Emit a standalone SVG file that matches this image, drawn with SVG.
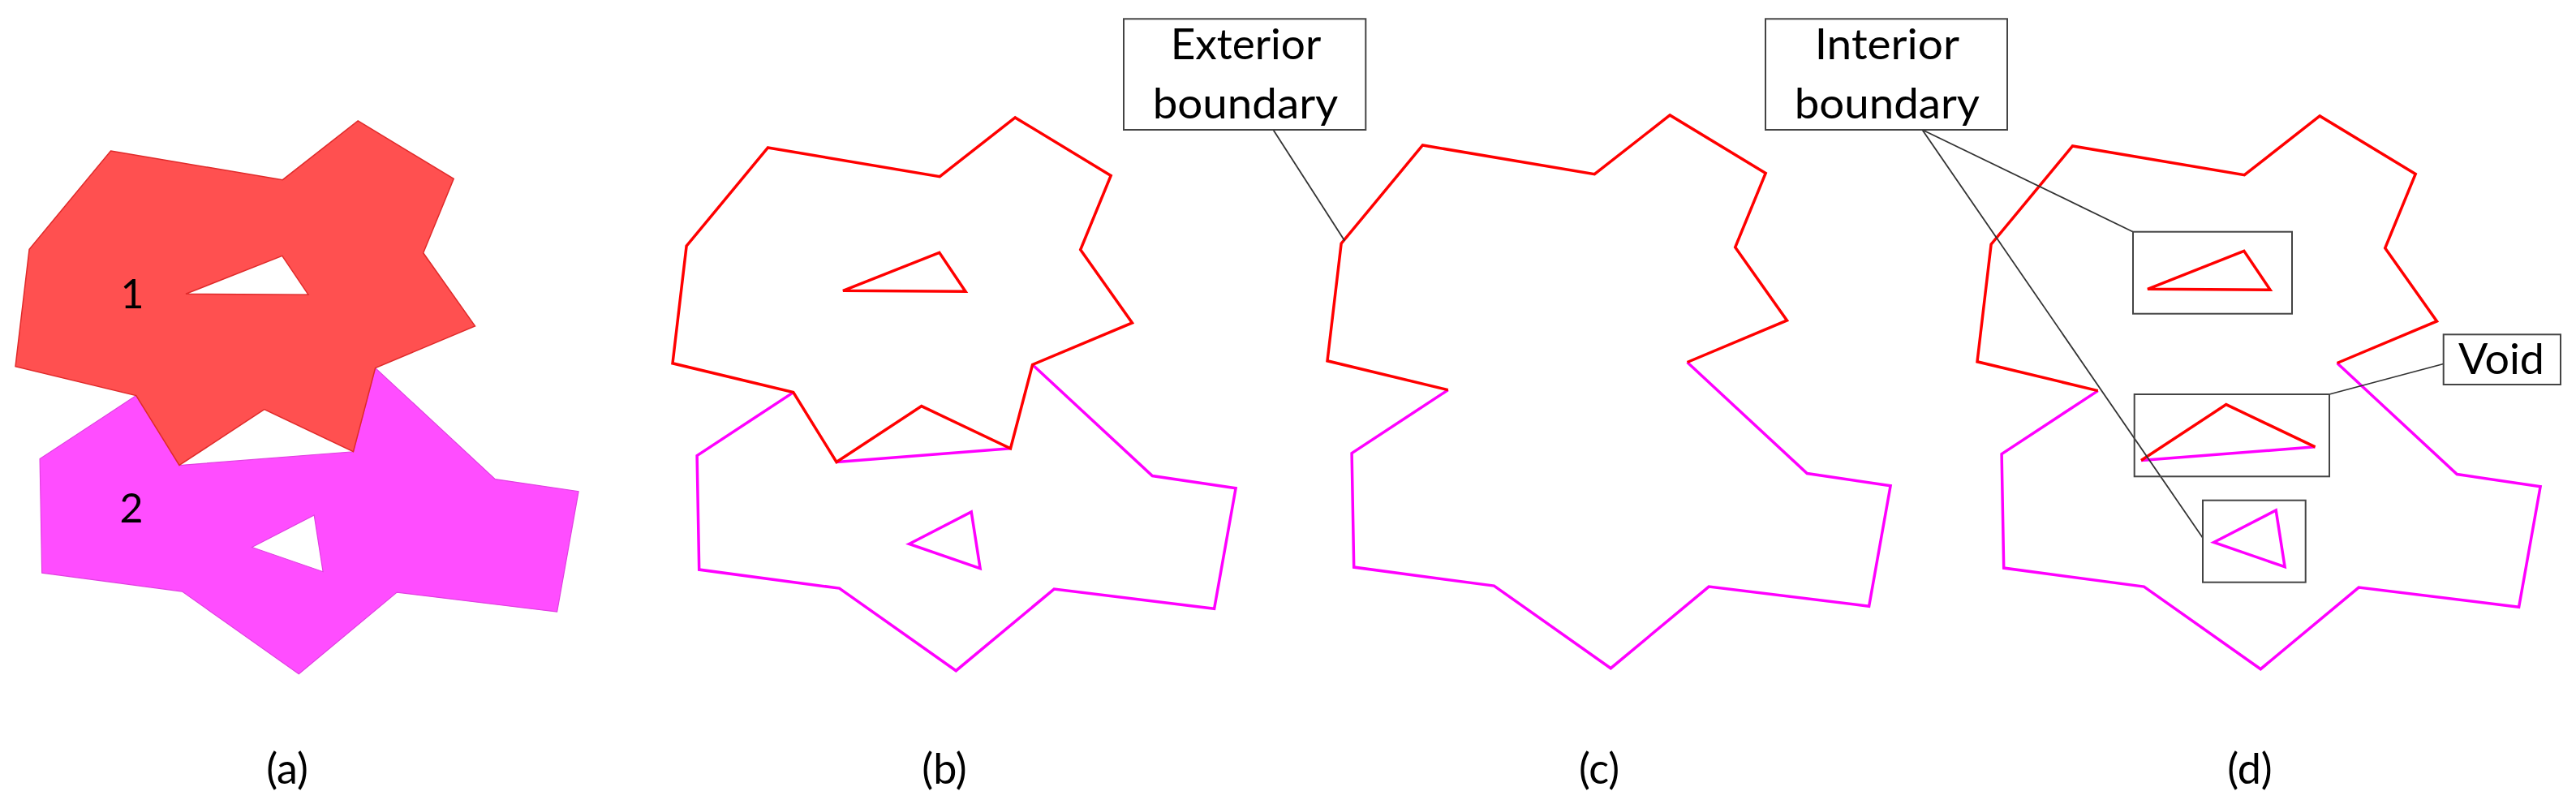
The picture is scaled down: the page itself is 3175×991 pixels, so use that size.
<svg xmlns="http://www.w3.org/2000/svg" xmlns:xlink="http://www.w3.org/1999/xlink" width="3175" height="991" viewBox="0 0 3175 991">
<style>
.red{fill:none;stroke:#FF0000;stroke-width:3.5;stroke-linejoin:miter}
.mag{fill:none;stroke:#FF00FF;stroke-width:3.5;stroke-linejoin:miter}
.redfill{fill:#FF5050;stroke:#E02A2A;stroke-width:1.5;fill-rule:evenodd}
.magfill{fill:#FF4DFF;stroke:#E040E0;stroke-width:1.2;fill-rule:evenodd}
.box{fill:#FFFFFF;stroke:#444444;stroke-width:2}
.hbox{fill:none;stroke:#444444;stroke-width:2}
.lead{fill:none;stroke:#333333;stroke-width:1.8}
.t{font-family:Lato,"Liberation Sans",sans-serif;font-size:52px;fill:#000000;text-anchor:middle}
.num{font-family:Lato,"Liberation Sans",sans-serif;font-size:50px;fill:#000000;text-anchor:middle}
.cap{font-family:Lato,"Liberation Sans",sans-serif;font-size:52px;fill:#000000;text-anchor:middle}
</style>
<defs>
<path id="redOuter" d="M946.5,182 L1158.3,217.7 L1251.2,144.9 L1369.2,216.4 L1331.7,307.8 L1395.5,397.9 L1272.6,449.5 L1245.5,552.8 L1135.8,500.6 L1031,569.5 L977.8,483.6 L829,447.8 L846.1,303.2 Z"/>
<path id="redHole" d="M1039,358.3 L1157.8,311.3 L1190,359.2 Z"/>
<path id="magHole" d="M1120.5,670.5 L1197.2,631 L1208.1,700.7 Z"/>
<path id="magOuterOpen" d="M977.8,483.6 L859.1,561.6 L861.7,702.1 L1034.5,725.1 L1178.3,826.7 L1299.2,726.1 L1496.6,750.2 L1523.1,601.7 L1420.3,586.6 L1272.6,449.5"/>
<path id="extRed" d="M977.8,483.6 L829,447.8 L846.1,303.2 L946.5,182 L1158.3,217.7 L1251.2,144.9 L1369.2,216.4 L1331.7,307.8 L1395.5,397.9 L1272.6,449.5"/>
</defs>

<g id="panel-a" transform="translate(-810,4)">
<path class="magfill" d="M977.8,483.6 L859.1,561.6 L861.7,702.1 L1034.5,725.1 L1178.3,826.7 L1299.2,726.1 L1496.6,750.2 L1523.1,601.7 L1420.3,586.6 L1272.6,449.5 L1245.5,552.8 L1031,569.5 Z M1120.5,670.5 L1197.2,631 L1208.1,700.7 Z"/>
<path class="redfill" d="M946.5,182 L1158.3,217.7 L1251.2,144.9 L1369.2,216.4 L1331.7,307.8 L1395.5,397.9 L1272.6,449.5 L1245.5,552.8 L1135.8,500.6 L1031,569.5 L977.8,483.6 L829,447.8 L846.1,303.2 Z M1039,358.3 L1157.8,311.3 L1190,359.2 Z"/>
</g>
<g id="label-1"><text class="num" x="163" y="380">1</text></g>
<g id="label-2"><text class="num" x="162" y="644">2</text></g>

<g id="panel-b">
<use xlink:href="#magOuterOpen" class="mag"/>
<path class="mag" d="M1031,569.5 L1245.5,552.8"/>
<use xlink:href="#magHole" class="mag"/>
<use xlink:href="#redOuter" class="red"/>
<use xlink:href="#redHole" class="red"/>
</g>

<g id="panel-c" transform="translate(807,-3)">
<use xlink:href="#magOuterOpen" class="mag"/>
<use xlink:href="#extRed" class="red"/>
</g>

<g id="panel-d" transform="translate(1608,-2)">
<use xlink:href="#magOuterOpen" class="mag"/>
<use xlink:href="#extRed" class="red"/>
<use xlink:href="#redHole" class="red"/>
<use xlink:href="#magHole" class="mag"/>
<path class="mag" d="M1031,569.5 L1245.5,552.8"/>
<path class="red" d="M1031,569.5 L1135.8,500.6 L1245.5,552.8"/>
</g>

<g id="connectors">
<line class="lead" x1="1569.3" y1="160" x2="1657.3" y2="296.7"/>
<line class="lead" x1="2369.3" y1="160" x2="2629" y2="285.7"/>
<line class="lead" x1="2369.3" y1="160" x2="2715" y2="663"/>
<line class="lead" x1="2871" y1="486" x2="3011.7" y2="448.5"/>
</g>

<g id="highlight-boxes">
<rect id="box-hole-red" class="hbox" x="2629" y="285.7" width="196" height="101"/>
<rect id="box-void" class="hbox" x="2630.7" y="486" width="240.3" height="101.3"/>
<rect id="box-hole-mag" class="hbox" x="2715" y="616.7" width="126.7" height="101"/>
</g>

<g id="node-exterior">
<rect class="box" x="1385" y="23.3" width="298.3" height="136.7"/>
<text class="t" x="1535.5" y="73.3" textLength="185.7" lengthAdjust="spacingAndGlyphs">Exterior</text>
<text class="t" x="1535" y="145.7" textLength="228.7" lengthAdjust="spacingAndGlyphs">boundary</text>
</g>

<g id="node-interior">
<rect class="box" x="2176" y="23.3" width="298" height="136.7"/>
<text class="t" x="2325.8" y="73.3" textLength="178.3" lengthAdjust="spacingAndGlyphs">Interior</text>
<text class="t" x="2325.8" y="145.7" textLength="228.3" lengthAdjust="spacingAndGlyphs">boundary</text>
</g>

<g id="node-void">
<rect class="box" x="3011.7" y="412.3" width="144.3" height="61.7"/>
<text class="t" x="3083" y="460.7" textLength="106" lengthAdjust="spacingAndGlyphs">Void</text>
</g>

<g id="captions">
<text class="cap" x="354" y="966">(a)</text>
<text class="cap" x="1164" y="966">(b)</text>
<text class="cap" x="1971" y="966">(c)</text>
<text class="cap" x="2773" y="966">(d)</text>
</g>
</svg>
